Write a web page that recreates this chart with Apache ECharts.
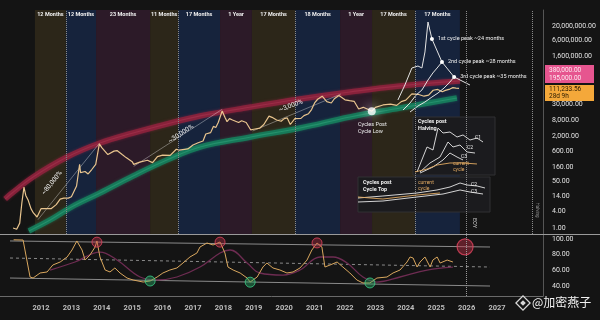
<!DOCTYPE html>
<html><head><meta charset="utf-8">
<script src="https://cdn.jsdelivr.net/npm/echarts@6/dist/echarts.min.js"></script>
<style>html,body{margin:0;padding:0;background:#141414;}#c{width:600px;height:320px;}</style>
</head><body><div id="c"></div>
<script>
// ---------------- DATA ----------------
const yearTicks = [2012,2013,2014,2015,2016,2017,2018,2019,2020,2021,2022,2023,2024,2025,2026,2027];
const priceTickValues = [1,4,14,50,160,600,2000,8000,30000,110000,380000,1600000,6000000,20000000];
const priceTickLabels = ["1.00","4.00","14.00","50.00","160.00","600.00","2,000.00","8,000.00","30,000.00","110,000.00","380,000.00","1,600,000.00","6,000,000.00","20,000,000.00"];
const oscTicks = [40,60,80,100];

const priceYears = [2011.08,2011.2,2011.3,2011.37,2011.44,2011.5,2011.58,2011.67,2011.75,2011.87,2012.0,2012.17,2012.33,2012.5,2012.63,2012.75,2012.9,2013.0,2013.17,2013.27,2013.3,2013.45,2013.55,2013.67,2013.8,2013.92,2014.0,2014.1,2014.2,2014.4,2014.5,2014.67,2014.8,2015.0,2015.05,2015.25,2015.5,2015.67,2015.83,2016.0,2016.25,2016.45,2016.55,2016.83,2017.0,2017.17,2017.33,2017.42,2017.58,2017.67,2017.75,2017.83,2017.96,2018.05,2018.12,2018.2,2018.3,2018.5,2018.6,2018.75,2018.9,2019.0,2019.2,2019.33,2019.5,2019.6,2019.75,2019.9,2020.0,2020.1,2020.2,2020.35,2020.55,2020.65,2020.8,2020.9,2021.0,2021.1,2021.25,2021.4,2021.55,2021.65,2021.8,2021.86,2022.0,2022.15,2022.3,2022.45,2022.6,2022.75,2022.88,2023.0,2023.25,2023.5,2023.7,2023.85,2024.0,2024.2,2024.4,2024.6,2024.75,2024.9,2025.05,2025.2,2025.3,2025.45,2025.55,2025.65,2025.75];
const priceValues = [1.0,0.9,1.5,8,30,15,10,5,3.5,2.5,5,5,5,7,11,12,12,13.5,33,200,100,110,90,130,200,1100,800,600,450,600,630,450,350,250,200,240,280,230,380,430,420,700,650,720,1000,1200,1400,2500,2800,4700,4300,6500,17000,10000,7000,9000,8000,6500,7500,6500,3500,3700,4100,5500,11000,10000,8000,7200,9000,9500,5500,9000,9200,11500,13500,19000,33000,45000,58000,37000,33000,47000,61000,64000,43000,40000,38000,20000,23000,19500,16500,23000,28000,30000,27000,37000,42000,70000,68000,58000,63000,95000,102000,84000,94000,105000,118000,113000,111000];

const redBandYears = [2010.82,2011.05,2011.74,2012.86,2013.94,2015.03,2016.14,2017.23,2018.9,2020.52,2022.16,2023.81,2025.78];
const redBandValues = [11.2,18.4,70,368,1180,2710,5740,11200,23600,45900,82200,136000,206000];
const greenBandYears = [2011.6,2012.3,2013.0,2013.94,2015.03,2016.14,2017.23,2018.9,2020.52,2022.16,2023.81,2025.68];
const greenBandValues = [0.78,1.95,5.7,18.4,76,287,846,1940,4110,10300,21700,49900];

const phaseEdges = [2011.80,2012.82,2013.81,2015.59,2016.51,2017.89,2018.94,2020.36,2021.84,2022.89,2024.30,2025.78];
const phaseLabels = ["12 Months","12 Months","23 Months","11 Months","17 Months","1 Year","17 Months","18 Months","1 Year","17 Months","17 Months"];
const phaseKinds = ["accum","bull","bear","accum","bull","bear","accum","bull","bear","accum","bull"];

const halvingYears = [2012.82,2016.51,2020.36,2024.30,2028.0];
const halvingNames = ["Halving 1","Halving 2","Halving 3","Halving 4","Halving 5"];
const dottedYears = [2012.82,2016.51,2020.36,2024.30,2026.0,2028.15];

const gainLines = [
  {label:"~80,000%", years:[2011.9,2013.92], values:[2,1150]},
  {label:"~30,000%", years:[2015.05,2017.96], values:[170,19500]},
  {label:"~3,000%",  years:[2018.96,2021.86], values:[3200,69000]}
];

// overlay of cycle comparison (top right)
const ovC1Years = [2023.74,2023.97,2024.20,2024.40,2024.53,2024.63,2024.73];
const ovC1Values = [42300,147000,607000,716000,607000,2300000,27900000];
const ovC2Years = [2023.91,2024.14,2024.34,2024.53,2024.73,2024.89,2025.03,2025.19];
const ovC2Values = [18400,33000,64100,97100,223000,400000,607000,998000];
const ovC3Years = [2024.14,2024.40,2024.63,2024.86,2025.06,2025.26,2025.45,2025.59];
const ovC3Values = [15600,25600,35800,54200,75700,115000,189000,287000];
const peakYears = [2024.73,2024.86,2025.19,2025.59,2026.11];
const peakValues = [27900000,6770000,998000,287000,147000];
const peakNames = ["","1st cycle peak ~24 months","2nd cycle peak ~28 months","3rd cycle peak ~35 months",""];

const cycleLow = [2022.88,16500];

// oscillator panel
const oscYears = [2011.1,2011.41,2011.64,2011.74,2011.97,2012.20,2012.39,2012.63,2012.86,2013.02,2013.18,2013.35,2013.45,2013.61,2013.78,2013.84,2013.94,2014.11,2014.27,2014.43,2014.60,2014.83,2015.03,2015.36,2015.59,2015.82,2016.01,2016.24,2016.47,2016.67,2016.90,2017.13,2017.23,2017.46,2017.66,2017.89,2018.05,2018.15,2018.32,2018.55,2018.78,2018.88,2019.11,2019.30,2019.43,2019.63,2019.86,2020.09,2020.29,2020.52,2020.75,2020.91,2021.08,2021.24,2021.34,2021.51,2021.74,2021.93,2022.16,2022.39,2022.59,2022.82,2023.05,2023.38,2023.58,2023.81,2024.04,2024.14,2024.24,2024.37,2024.47,2024.63,2024.80,2024.89,2025.03,2025.13,2025.36,2025.55];
const oscValues = [99,98.7,51.6,50.3,56.7,58,66.9,70.7,77.1,86,97.5,86,73.2,79.6,89.8,97.5,77.1,60.5,58,63.1,56.7,50.3,47.8,45.2,46.5,51.6,56.7,60.5,63.1,69.4,77.1,82.2,89.8,94.9,92.4,96.2,82.2,64.3,60.5,56.7,50.3,45.2,51.6,64.3,69.4,63.1,60.5,56.7,58,63.1,73.2,86,94.9,89.8,64.3,66.9,70.7,64.3,56.7,47.8,44,44,50.3,51.6,56.7,60.5,70.7,77.1,75.8,64.3,70.7,77.1,64.3,73.2,77.1,69.4,73.2,70.7];
const maYears = [2012.30,2013.12,2013.94,2014.50,2015.26,2015.82,2016.47,2017.23,2017.89,2018.22,2018.78,2019.20,2019.96,2020.52,2021.18,2021.61,2022.07,2022.59,2023.05,2023.81,2024.70,2025.55];
const maValues = [60.5,70.7,83.4,73.2,51.6,47.8,51.6,64.3,82.2,86,69.4,56.7,54.1,60.5,77.1,77.1,69.4,51.6,45.2,51.6,60.5,64.3];
const channelYears = [2010.98,2026.77];
const channelUpper = [97.5,89.8];
const channelMid = [75.8,64.3];
const channelLower = [50.3,40.1];
const topSignals = [[2013.84,96],[2017.89,96],[2021.08,95]];
const topSignalNow = [[2025.95,90]];
const bottomSignals = [[2015.59,46.5],[2018.88,45],[2022.82,44]];

// insets (0-100 units inside each box)
const in1C1 = [[4.9,5.2],[17.1,48.3],[24.4,43.1],[30.5,81],[36.6,72.4],[45.1,74.1],[53.7,65.5],[61,69],[69.5,60.3],[78,63.8],[85.4,56.9]];
const in1C2 = [[8.5,5.2],[20.7,20.7],[32.9,31],[42.7,56.9],[48.8,48.3],[57.3,51.7],[65.9,39.7],[75.6,37.9]];
const in1C3 = [[8.5,3.4],[24.4,13.8],[36.6,25.9],[45.1,37.9],[53.7,31],[61,25.9]];
const in1Cur = [[2.4,5.2],[17.1,10.3],[29.3,17.2],[45.1,20.7],[61,20.7],[78,19]];
const in2C2 = [[0,40],[18.9,45.7],[44.7,54.3],[59.8,62.9],[69.7,71.4],[77.3,82.9],[82.6,77.1],[90.2,74.3],[96.2,68.6]];
const in2C3 = [[0,28.6],[18.9,31.4],[44.7,42.9],[64.4,51.4],[77.3,62.9],[84.8,57.1],[94.7,51.4]];
const in2Cur = [[0,42.9],[18.9,37.1],[31.8,42.9],[44.7,48.6],[62.1,54.3]];

// ---------------- BUILD ----------------
const L = v => Math.log10(v);
const zipLog = (xs, vs) => xs.map((x,i)=>[x, L(vs[i])]);
const zip = (xs, vs) => xs.map((x,i)=>[x, vs[i]]);
const phaseColor = {accum:'#2c2619', bull:'#16233c', bear:'#2c1a28'};
const XMIN = 2012 - 41/30.4, XMAX = 2012 + 502/30.4;
const FONT = 'Roboto, "Noto Sans", sans-serif';

const bandAreas = phaseLabels.map((lab,i)=>[
  {xAxis: phaseEdges[i], name: lab, itemStyle:{color: phaseColor[phaseKinds[i]]}},
  {xAxis: phaseEdges[i+1]}
]);

const lineS = (data, color, width, extra) => Object.assign({
  type:'line', xAxisIndex:0, yAxisIndex:0, data, showSymbol:false, symbol:'none',
  lineStyle:{color, width}, silent:true, z:2
}, extra||{});

const series = [];
series.push({
  type:'line', xAxisIndex:0, yAxisIndex:0, data:[], z:1, silent:true,
  markArea:{silent:true, label:{show:true, position:'insideTop', distance:2, color:'#eeeeee', fontSize:5.5, fontFamily:FONT, fontWeight:'bold'}, data: bandAreas},
  markLine:{silent:true, symbol:['none','none'], label:{show:false}, lineStyle:{type:'dotted', color:'#8a8a8a', width:1}, data: dottedYears.map(y=>({xAxis:y}))}
});
// bands
series.push(lineS(zipLog(redBandYears, redBandValues), 'rgba(140,34,60,0.9)', 5.5, {smooth:0.4,
  lineStyle:{color:'rgba(140,34,60,0.9)', width:5.5, shadowBlur:3, shadowColor:'rgba(180,40,75,0.5)'}}));
series.push(lineS(zipLog(redBandYears, redBandValues), 'rgba(200,70,100,0.3)', 1.2, {smooth:0.4}));
series.push(lineS(zipLog(greenBandYears, greenBandValues), 'rgba(22,125,92,0.9)', 5.5, {smooth:0.4,
  lineStyle:{color:'rgba(22,125,92,0.9)', width:5.5, shadowBlur:3, shadowColor:'rgba(30,160,115,0.5)'}}));
series.push(lineS(zipLog(greenBandYears, greenBandValues), 'rgba(70,200,150,0.3)', 1.2, {smooth:0.4}));
// gain lines
gainLines.forEach(g => series.push(lineS(zipLog(g.years, g.values), 'rgba(255,255,255,0.5)', 0.7)));
// price
series.push(lineS(zipLog(priceYears, priceValues), '#e8c48e', 1.2));
// overlay cycles
series.push(lineS(zipLog(ovC1Years, ovC1Values), '#e4e4e4', 1));
series.push(lineS(zipLog(ovC2Years, ovC2Values), '#e4e4e4', 1));
series.push(lineS(zipLog(ovC3Years, ovC3Values), '#e4e4e4', 1));
series.push({
  type:'line', xAxisIndex:0, yAxisIndex:0, silent:true, z:3,
  data: peakYears.map((y,i)=>({value:[y, L(peakValues[i])], name: peakNames[i], symbol: peakNames[i] ? 'circle' : 'none', symbolSize:4})),
  showSymbol:true, lineStyle:{color:'#e4e4e4', width:1}, itemStyle:{color:'#ffffff'},
  label:{show:true, position:'right', distance:4, color:'#f0f0f0', fontSize:5.5, fontFamily:FONT, formatter: p => p.name}
});
// cycle low glow dot
series.push({type:'scatter', xAxisIndex:0, yAxisIndex:0, silent:true, z:4, data:[[cycleLow[0], L(cycleLow[1])]], symbolSize:8,
  itemStyle:{color:'#ffffff', shadowBlur:12, shadowColor:'#ffffff'}});
// halving labels
series.push({type:'scatter', xAxisIndex:0, yAxisIndex:0, silent:true, z:6, symbolSize:1, itemStyle:{opacity:0},
  data: halvingYears.map((y,i)=>({value:[y, 0], name: halvingNames[i]})),
  label:{show:true, position:'inside', formatter:p=>p.name, backgroundColor:'#f2b640', color:'#3a2600', fontSize:5.5, fontFamily:FONT, padding:[2,4,2,4], borderRadius:1, borderColor:'#ffd27a', borderWidth:0.5}
});
// lower panel
const lowS = (data, color, width, extra) => Object.assign({type:'line', xAxisIndex:1, yAxisIndex:1, data, showSymbol:false, symbol:'none', silent:true, lineStyle:{color, width}}, extra||{});
series.push(lowS(zip(channelYears, channelUpper), '#8a8a8a', 1));
series.push(lowS(zip(channelYears, channelMid), '#8a8a8a', 1, {lineStyle:{color:'#8a8a8a', width:1, type:[3,3]}}));
series.push(lowS(zip(channelYears, channelLower), '#8a8a8a', 1, {
  markLine:{silent:true, symbol:['none','none'], label:{show:false}, lineStyle:{type:'dotted', color:'#9a9a9a', width:1}, data:[{xAxis:2026.0}]}
}));
series.push(lowS(zip(maYears, maValues), '#6e2c52', 1.3, {smooth:0.4}));
series.push(lowS(zip(oscYears, oscValues), '#d9a75e', 1));
series.push({type:'scatter', xAxisIndex:1, yAxisIndex:1, silent:true, z:4, data: topSignals, symbolSize:10,
  itemStyle:{color:'rgba(200,50,75,0.45)', borderColor:'#e0455f', borderWidth:1}});
series.push({type:'scatter', xAxisIndex:1, yAxisIndex:1, silent:true, z:4, data: topSignalNow, symbolSize:16,
  itemStyle:{color:'rgba(210,50,75,0.5)', borderColor:'#e0455f', borderWidth:1.2}});
series.push({type:'scatter', xAxisIndex:1, yAxisIndex:1, silent:true, z:4, data: bottomSignals, symbolSize:10,
  itemStyle:{color:'rgba(40,175,105,0.5)', borderColor:'#3ccf8a', borderWidth:1}});
// insets
const inS = (idx, data, color) => ({type:'line', xAxisIndex:idx, yAxisIndex:idx, data, showSymbol:false, symbol:'none', silent:true, z:5, lineStyle:{color, width:0.9}});
series.push(inS(2, in1C1, '#e8e8e8'), inS(2, in1C2, '#e8e8e8'), inS(2, in1C3, '#e8e8e8'), inS(2, in1Cur, '#e2aa62'));
series.push(inS(3, in2C2, '#e8e8e8'), inS(3, in2C3, '#e8e8e8'), inS(3, in2Cur, '#e2aa62'));

const txt = (x, y, text, o) => ({type:'text', x, y, z:10, silent:true, rotation:(o&&o.rot)||0,
  style:Object.assign({text, fill:'#f0f0f0', fontSize:5.5, fontFamily:FONT, align:'left', verticalAlign:'middle'}, (o&&o.style)||{})});

const graphics = [
  {type:'line', z:8, silent:true, shape:{x1:0, y1:234.5, x2:600, y2:234.5}, style:{stroke:'#9a9a9a', lineWidth:1}},
  {type:'rect', z:3, silent:true, shape:{x:413, y:117, width:82, height:58}, style:{fill:'#1b1b1e', stroke:'#303033', lineWidth:1}},
  {type:'rect', z:3, silent:true, shape:{x:358, y:177, width:132, height:35}, style:{fill:'#1b1b1e', stroke:'#303033', lineWidth:1}},
  txt(418, 125, 'Cycles post\nHalving', {style:{fontWeight:'bold', lineHeight:7}}),
  txt(475, 138, 'C1', {style:{fontSize:5}}),
  txt(467, 148, 'C2', {style:{fontSize:5}}),
  txt(461, 157, 'C3', {style:{fontSize:5}}),
  txt(453, 167, 'current\ncycle', {style:{fontSize:5, fill:'#e2aa62', lineHeight:6}}),
  txt(363, 186, 'Cycles post\nCycle Top', {style:{fontWeight:'bold', lineHeight:7}}),
  txt(418, 186, 'current\ncycle', {style:{fontSize:5, fill:'#e2aa62', lineHeight:6}}),
  txt(471, 185, 'C2', {style:{fontSize:5}}),
  txt(471, 192, 'C3', {style:{fontSize:5}}),
  txt(358, 128, 'Cycles Post\nCycle Low', {style:{lineHeight:7}}),
  txt(52, 183, gainLines[0].label, {rot:0.89, style:{align:'center', fontSize:6.5}}),
  txt(181, 134, gainLines[1].label, {rot:0.58, style:{align:'center', fontSize:6.5}}),
  txt(291, 106, gainLines[2].label, {rot:0.35, style:{align:'center', fontSize:6.5}}),
  txt(474, 223, 'EOY', {rot:-Math.PI/2, style:{align:'center', fontSize:5.5, fill:'#cfcfcf'}}),
  txt(537, 210, 'Halving', {rot:-Math.PI/2, style:{align:'center', fontSize:4.5, fill:'#8a8a8a'}}),
  {type:'rect', z:9, silent:true, shape:{x:545, y:65, width:49, height:18}, style:{fill:'#e6558f'}},
  txt(549, 70.5, '380,000.00', {style:{fontSize:6.5, fill:'#fde8f0'}}),
  txt(549, 78.5, '195,000.00', {style:{fontSize:6.5, fill:'#fde8f0'}}),
  {type:'rect', z:9, silent:true, shape:{x:545, y:85, width:49, height:16}, style:{fill:'#f4a83a'}},
  txt(549, 89.5, '111,233.56', {style:{fontSize:6.5, fill:'#2a1a00'}}),
  txt(549, 96.5, '28d 9h', {style:{fontSize:6.5, fill:'#2a1a00'}}),
  {type:'rect', z:8, silent:true, x:523, y:303, rotation:Math.PI/4, shape:{x:-5, y:-5, width:10, height:10}, style:{fill:'none', stroke:'#d8d8d8', lineWidth:1.3}},
  {type:'rect', z:8, silent:true, x:523, y:303, rotation:Math.PI/4, shape:{x:-2, y:-2, width:4, height:4}, style:{fill:'#d8d8d8'}},
  txt(532, 302, '@加密燕子', {style:{fontSize:12, fill:'#f2f2f2', fontFamily:'"Noto Sans CJK SC", sans-serif'}})
];

const option = {
  backgroundColor:'#141414',
  animation:false,
  textStyle:{fontFamily:FONT},
  grid:[
    {left:0, right:57, top:10, height:224},
    {left:0, right:57, top:235, height:61},
    {left:413, top:117, width:82, height:58},
    {left:358, top:177, width:132, height:35}
  ],
  xAxis:[
    {gridIndex:0, type:'value', min:XMIN, max:XMAX, show:false},
    {gridIndex:1, type:'value', min:XMIN, max:XMAX, axisLine:{show:true, lineStyle:{color:'#6a6a6a'}}, axisTick:{show:false}, splitLine:{show:false},
      axisLabel:{customValues:yearTicks, formatter:v=>String(Math.round(v)), color:'#bdbdbd', fontSize:7.5, fontWeight:'bold', margin:8}},
    {gridIndex:2, type:'value', min:0, max:100, show:false},
    {gridIndex:3, type:'value', min:0, max:100, show:false}
  ],
  yAxis:[
    {gridIndex:0, type:'value', position:'right', min:-0.217, max:7.879, axisLine:{show:true, lineStyle:{color:'#555'}}, axisTick:{show:false}, splitLine:{show:false},
      axisLabel:{customValues:priceTickValues.map(L), color:'#e2e2e2', fontSize:7, margin:9,
        formatter:v=>{let b=0,d=1e9;priceTickValues.forEach((t,i)=>{const dd=Math.abs(L(t)-v); if(dd<d){d=dd;b=i;}}); return priceTickLabels[b];}}},
    {gridIndex:1, type:'value', position:'right', min:27.4, max:105.1, axisLine:{show:true, lineStyle:{color:'#555'}}, axisTick:{show:false}, splitLine:{show:false},
      axisLabel:{customValues:oscTicks, formatter:v=>Number(v).toFixed(2), color:'#e2e2e2', fontSize:7, margin:9}},
    {gridIndex:2, type:'value', min:0, max:100, show:false},
    {gridIndex:3, type:'value', min:0, max:100, show:false}
  ],
  series,
  graphic: graphics
};
const chart = echarts.init(document.getElementById('c'));
chart.setOption(option);
</script></body></html>
